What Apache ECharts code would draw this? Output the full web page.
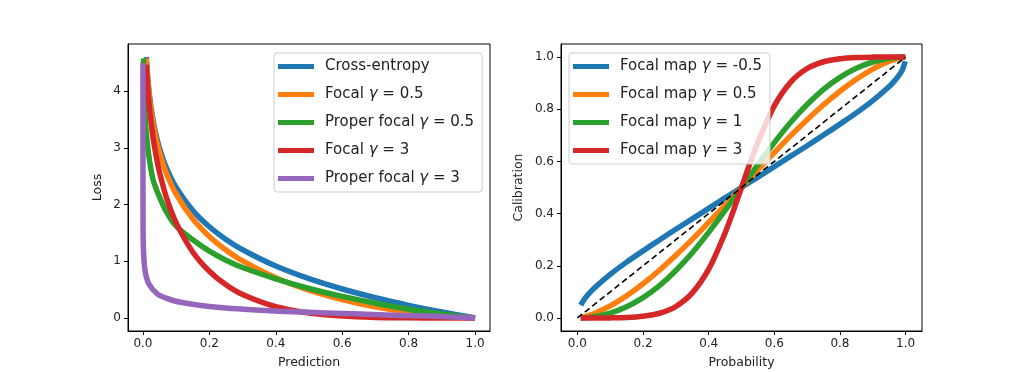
<!DOCTYPE html>
<html>
<head>
<meta charset="utf-8">
<script src="https://cdn.jsdelivr.net/npm/echarts@6/dist/echarts.min.js"></script>
<style>
html,body{margin:0;padding:0;background:#fff;}
#chart{width:1024px;height:372px;}
</style>
</head>
<body>
<div id="chart"></div>
<script>
// ---------- Left panel: loss vs prediction ----------
const predGrid     = [0.01,0.015,0.02,0.03,0.04,0.05,0.07,0.1,0.15,0.2,0.25,0.3,0.4,0.5,0.6,0.7,0.8,0.9,1.0];
const crossEntropy = [4.605,4.200,3.912,3.507,3.219,2.996,2.659,2.303,1.897,1.609,1.386,1.204,0.916,0.693,0.511,0.357,0.223,0.105,0];
const focal05      = [4.582,4.168,3.873,3.454,3.154,2.920,2.564,2.185,1.749,1.439,1.200,1.007,0.710,0.490,0.323,0.196,0.100,0.033,0];
const focal3       = [4.468,4.014,3.682,3.201,2.848,2.568,2.138,1.679,1.165,0.824,0.585,0.413,0.198,0.087,0.033,0.010,0.002,0.000,0];
const properPred05 = [0.0015,0.0042,0.0076,0.0164,0.03,0.046,0.07,0.1,0.15,0.2,0.25,0.3,0.4,0.5,0.6,0.7,0.8,0.9,1.0];
const properFocal05= [4.58,3.87,3.45,2.92,2.45,2.19,1.88,1.62,1.38,1.18,1.02,0.89,0.69,0.52,0.38,0.26,0.155,0.07,0];
const properPred3  = [0.0,0.0003,0.0018,0.0065,0.018,0.044,0.07,0.096,0.14,0.187,0.25,0.326,0.41,0.5,0.6,0.674,0.75,0.813,0.9,0.956,1.0];
const properFocal3 = [4.5,1.68,1.17,0.83,0.6,0.42,0.35,0.3,0.25,0.21,0.175,0.145,0.12,0.1,0.08,0.065,0.05,0.04,0.025,0.012,0];
const leftXTicks = [0,0.2,0.4,0.6,0.8,1.0];
const leftYTicks = [0,1,2,3,4];

// ---------- Right panel: focal calibration maps ----------
const probGrid = [0.01,0.02,0.03,0.05,0.1,0.15,0.2,0.25,0.3,0.35,0.4,0.45,0.5,0.55,0.6,0.65,0.7,0.75,0.8,0.85,0.9,0.95,0.97,0.98,0.99,0.999];
const mapNeg05 = [0.049,0.070,0.086,0.113,0.167,0.214,0.257,0.299,0.340,0.380,0.420,0.460,0.5,0.540,0.580,0.620,0.660,0.701,0.743,0.786,0.833,0.887,0.914,0.930,0.951,0.984];
const map05    = [0.0015,0.0042,0.0076,0.0164,0.046,0.085,0.131,0.183,0.240,0.301,0.366,0.432,0.5,0.568,0.634,0.699,0.760,0.817,0.869,0.915,0.954,0.984,0.992,0.996,0.9985,1.0];
const map1     = [0.0002,0.0008,0.0017,0.0047,0.0188,0.043,0.078,0.124,0.182,0.250,0.328,0.412,0.5,0.588,0.672,0.750,0.818,0.876,0.922,0.957,0.981,0.995,0.998,0.999,1.0,1.0];
const probGrid3= [0.01,0.02,0.03,0.05,0.1,0.15,0.2,0.25,0.3,0.35,0.4,0.45,0.475,0.5,0.525,0.55,0.6,0.65,0.7,0.75,0.8,0.85,0.9,0.95,0.97,0.98,0.99,0.999];
const map3     = [0,0,0,0,0.0003,0.0018,0.0065,0.018,0.044,0.096,0.187,0.326,0.410,0.5,0.590,0.674,0.813,0.904,0.956,0.982,0.9935,0.9982,0.9997,1,1,1,1,1];
const diagX = [0,1];
const diagY = [0,1];
const rightTicks = [0,0.2,0.4,0.6,0.8,1.0];

const leftNames  = ['Cross-entropy','Focal γ = 0.5','Proper focal γ = 0.5','Focal γ = 3','Proper focal γ = 3'];
const rightNames = ['Focal map γ = -0.5','Focal map γ = 0.5','Focal map γ = 1','Focal map γ = 3'];
const colors = ['#1f77b4','#ff7f0e','#2ca02c','#d62728','#9467bd'];

const FONT = 'DejaVu Sans';
const zip = (xs, ys) => xs.map((x, i) => [x, ys[i]]);

function axisCommon(ticks, fmt) {
  return {
    type: 'value',
    splitLine: {show: false},
    axisLine: {show: true, onZero: false, lineStyle: {color: '#000', width: 1}},
    axisTick: {show: true, length: 4, inside: false, customValues: ticks, lineStyle: {color: '#000', width: 1}},
    axisLabel: {show: true, customValues: ticks, formatter: fmt, color: '#222', fontSize: 12, fontFamily: FONT, margin: 7},
    nameLocation: 'middle',
    nameTextStyle: {color: '#222', fontSize: 12.5, fontFamily: FONT}
  };
}

const lw = 5.5;
function lineSeries(name, data, xi, yi, color) {
  return {
    type: 'line', name: name, data: data, xAxisIndex: xi, yAxisIndex: yi,
    showSymbol: false, symbol: 'none', smooth: 0.3,
    lineStyle: {color: color, width: lw, cap: 'butt', join: 'round'},
    itemStyle: {color: color}, animation: false, silent: true
  };
}

const LFS = 15;
const legendRich = {g: {fontStyle: 'italic', fontSize: LFS, fontFamily: FONT, color: '#222'}};
function legendCommon(names, left) {
  return {
    data: names.map(n => ({name: n, icon: 'rect'})),
    orient: 'vertical', left: left, top: 53,
    itemWidth: 36, itemHeight: 5, itemGap: 9,
    padding: [4, 8, 4, 4],
    backgroundColor: 'rgba(255,255,255,0.8)',
    borderColor: '#cccccc', borderWidth: 1, borderRadius: 3,
    selectedMode: false,
    formatter: n => n.replace('γ', '{g|γ}'),
    textStyle: {fontSize: LFS, fontFamily: FONT, color: '#222', lineHeight: 19, padding: [0, 0, 0, 6], rich: legendRich}
  };
}

const option = {
  backgroundColor: '#fff',
  animation: false,
  grid: [
    {left: 128, top: 44, width: 362, height: 287, show: true, borderColor: '#000', borderWidth: 1, backgroundColor: 'transparent', containLabel: false, outerBoundsMode: 'none'},
    {left: 561, top: 44, width: 361, height: 287, show: true, borderColor: '#000', borderWidth: 1, backgroundColor: 'transparent', containLabel: false, outerBoundsMode: 'none'}
  ],
  xAxis: [
    Object.assign(axisCommon(leftXTicks, v => v.toFixed(1)), {gridIndex: 0, min: -0.045, max: 1.045, name: 'Prediction', nameGap: 25}),
    Object.assign(axisCommon(rightTicks, v => v.toFixed(1)), {gridIndex: 1, min: -0.05, max: 1.05, name: 'Probability', nameGap: 25})
  ],
  yAxis: [
    Object.assign(axisCommon(leftYTicks, v => String(v)), {gridIndex: 0, min: -0.23, max: 4.835, name: 'Loss', nameGap: 24}),
    Object.assign(axisCommon(rightTicks, v => v.toFixed(1)), {gridIndex: 1, min: -0.05, max: 1.05, name: 'Calibration', nameGap: 36})
  ],
  legend: [legendCommon(leftNames, 274), legendCommon(rightNames, 569)],
  series: [
    lineSeries(leftNames[0], zip(predGrid, crossEntropy), 0, 0, colors[0]),
    lineSeries(leftNames[1], zip(predGrid, focal05), 0, 0, colors[1]),
    lineSeries(leftNames[2], zip(properPred05, properFocal05), 0, 0, colors[2]),
    lineSeries(leftNames[3], zip(predGrid, focal3), 0, 0, colors[3]),
    lineSeries(leftNames[4], zip(properPred3, properFocal3), 0, 0, colors[4]),
    lineSeries(rightNames[0], zip(probGrid, mapNeg05), 1, 1, colors[0]),
    lineSeries(rightNames[1], zip(probGrid, map05), 1, 1, colors[1]),
    lineSeries(rightNames[2], zip(probGrid, map1), 1, 1, colors[2]),
    lineSeries(rightNames[3], zip(probGrid3, map3), 1, 1, colors[3]),
    {
      type: 'line', name: 'diag', data: zip(diagX, diagY), xAxisIndex: 1, yAxisIndex: 1,
      showSymbol: false, symbol: 'none',
      lineStyle: {color: '#000', width: 1.6, type: [6, 3.5]}, animation: false, silent: true
    }
  ]
};

const chart = echarts.init(document.getElementById('chart'), null, {renderer: 'canvas'});
chart.setOption(option);
</script>
</body>
</html>
